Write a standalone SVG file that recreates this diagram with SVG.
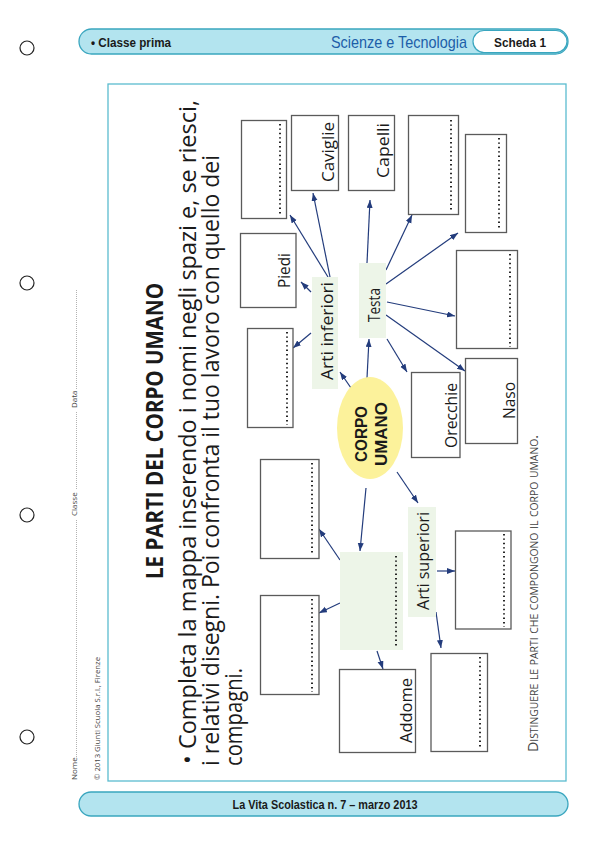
<svg xmlns="http://www.w3.org/2000/svg" width="595" height="842" viewBox="0 0 595 842">
<defs>
<style>
.hole{fill:#fff;stroke:#222;stroke-width:1.2}
.bar{fill:#b3e4ef;stroke:#3aa6bf;stroke-width:1.3}
.box{fill:#fff;stroke:#5a5a5a;stroke-width:1.3}
.lbl{fill:#edf5e8}
.dots{stroke:#111;stroke-width:1.8;stroke-dasharray:1.4 3;fill:none}
.lead{stroke:#777;stroke-width:0.7;stroke-dasharray:0.8 1.2;fill:none}
.t{font-family:"Open Sans","Liberation Sans",sans-serif;fill:#1a1a1a}
.hd{font-family:"Liberation Sans","Open Sans",sans-serif;font-weight:bold;fill:#1a1a1a}
.node{font-family:"Open Sans","Liberation Sans",sans-serif;font-size:16px;fill:#1a1a1a}
.small{font-family:"Open Sans","Liberation Sans",sans-serif;font-size:8px;fill:#444}
.arr{stroke:#233c7c;stroke-width:1.2;fill:none;marker-end:url(#ah)}
</style>
<marker id="ah" markerUnits="userSpaceOnUse" markerWidth="9" markerHeight="7" refX="8" refY="3" orient="auto">
<path d="M0,0 L8,3 L0,6 Z" fill="#233c7c"/>
</marker>
</defs>
<rect width="595" height="842" fill="#fff"/>

<g id="holes">
<circle class="hole" cx="27" cy="48" r="7"/>
<circle class="hole" cx="27" cy="283" r="7"/>
<circle class="hole" cx="27" cy="515" r="7"/>
<circle class="hole" cx="27" cy="737" r="7"/>
</g>

<g id="header">
<rect class="bar" x="79" y="29" width="489" height="25" rx="12.5"/>
<rect x="473" y="30.5" width="94" height="22" rx="11" fill="#fff" stroke="#3aa6bf" stroke-width="1.2"/>
<text class="hd" x="91" y="47" font-size="12.5" textLength="80" lengthAdjust="spacingAndGlyphs">• Classe prima</text>
<text x="331" y="48" font-family="Liberation Sans, Open Sans, sans-serif" font-size="17" fill="#1c5ea9" textLength="136" lengthAdjust="spacingAndGlyphs">Scienze e Tecnologia</text>
<text class="hd" x="520" y="47" font-size="12.5" text-anchor="middle" textLength="52" lengthAdjust="spacingAndGlyphs">Scheda 1</text>
</g>

<g id="frame">
<rect x="108" y="84" width="458" height="697" fill="none" stroke="#5bbccf" stroke-width="1.3"/>
</g>

<g id="footer">
<rect class="bar" x="79" y="792" width="489" height="24" rx="12"/>
<text class="hd" x="325" y="809" font-size="13" text-anchor="middle" textLength="185" lengthAdjust="spacingAndGlyphs">La Vita Scolastica n. 7 – marzo 2013</text>
</g>

<g id="margin">
<text class="small" transform="translate(77,780) rotate(-90)">Nome</text>
<line class="lead" x1="76.5" y1="757" x2="76.5" y2="519"/>
<text class="small" transform="translate(77,516) rotate(-90)">Classe</text>
<line class="lead" x1="76.5" y1="489" x2="76.5" y2="411"/>
<text class="small" transform="translate(77,408) rotate(-90)">Data</text>
<line class="lead" x1="76.5" y1="389" x2="76.5" y2="290"/>
<text class="small" transform="translate(100,780) rotate(-90)" textLength="123" lengthAdjust="spacingAndGlyphs">© 2013 Giunti Scuola S.r.l., Firenze</text>
</g>

<g id="title">
<text class="t" transform="translate(163,579) rotate(-90)" font-size="24" font-weight="bold" textLength="296" lengthAdjust="spacingAndGlyphs">LE PARTI DEL CORPO UMANO</text>
</g>

<g id="instructions">
<text class="t" transform="translate(196,764) rotate(-90)" font-size="24" textLength="664" lengthAdjust="spacingAndGlyphs">• Completa la mappa inserendo i nomi negli spazi e, se riesci,</text>
<text class="t" transform="translate(219,766) rotate(-90)" font-size="24" textLength="611" lengthAdjust="spacingAndGlyphs">i relativi disegni. Poi confronta il tuo lavoro con quello dei</text>
<text class="t" transform="translate(242,766) rotate(-90)" font-size="24" textLength="98" lengthAdjust="spacingAndGlyphs">compagni.</text>
</g>

<g id="connectors">
<line class="arr" x1="328" y1="277" x2="290" y2="215"/>
<line class="arr" x1="330" y1="277" x2="313" y2="193"/>
<line class="arr" x1="311" y1="292" x2="301" y2="282"/>
<line class="arr" x1="311" y1="333" x2="293" y2="348"/>
<line class="arr" x1="367" y1="263" x2="370" y2="200"/>
<line class="arr" x1="386" y1="270" x2="412" y2="215"/>
<line class="arr" x1="386" y1="284" x2="458" y2="233"/>
<line class="arr" x1="387" y1="302" x2="455" y2="316"/>
<line class="arr" x1="386" y1="315" x2="465" y2="371"/>
<line class="arr" x1="387" y1="339" x2="407" y2="372"/>
<line class="arr" x1="351" y1="388" x2="340" y2="372"/>
<line class="arr" x1="367" y1="378" x2="369" y2="339"/>
<line class="arr" x1="397" y1="472" x2="418" y2="503"/>
<line class="arr" x1="366" y1="488" x2="360" y2="551"/>
<line class="arr" x1="340" y1="560" x2="319" y2="529"/>
<line class="arr" x1="340" y1="603" x2="319" y2="613"/>
<line class="arr" x1="377" y1="651" x2="383" y2="669"/>
<line class="arr" x1="437" y1="571" x2="455" y2="571"/>
<line class="arr" x1="436" y1="612" x2="441" y2="648"/>
</g>

<g id="node-corpo">
<ellipse cx="370" cy="428" rx="33" ry="51" fill="#fcf29b"/>
<text class="hd" transform="translate(367,434) rotate(-90)" font-size="17" text-anchor="middle" textLength="56" lengthAdjust="spacingAndGlyphs">CORPO</text>
<text class="hd" transform="translate(387,434) rotate(-90)" font-size="17" text-anchor="middle" textLength="64" lengthAdjust="spacingAndGlyphs">UMANO</text>
</g>

<g id="node-arti-inferiori">
<rect class="lbl" x="312" y="277" width="26" height="112"/>
<text class="node" transform="translate(333,380) rotate(-90)" textLength="98" lengthAdjust="spacingAndGlyphs">Arti inferiori</text>
</g>
<g id="node-testa">
<rect class="lbl" x="359" y="263" width="27" height="75"/>
<text class="node" transform="translate(380,322) rotate(-90)" textLength="34" lengthAdjust="spacingAndGlyphs">Testa</text>
</g>
<g id="node-arti-superiori">
<rect class="lbl" x="408" y="507" width="28" height="110"/>
<text class="node" transform="translate(429,610) rotate(-90)" textLength="98" lengthAdjust="spacingAndGlyphs">Arti superiori</text>
</g>
<g id="node-tronco">
<rect class="lbl" x="340" y="552" width="63" height="98"/>
<line class="dots" x1="396" y1="556" x2="396" y2="647"/>
</g>

<g id="node-box-a">
<rect class="box" x="241.5" y="120.5" width="45" height="98"/>
<line class="dots" x1="280" y1="124" x2="280" y2="215"/>
</g>
<g id="node-caviglie">
<rect class="box" x="291.5" y="115.5" width="47" height="75"/>
<text class="node" transform="translate(334,182) rotate(-90)" textLength="60" lengthAdjust="spacingAndGlyphs">Caviglie</text>
</g>
<g id="node-capelli">
<rect class="box" x="348.5" y="115.5" width="46" height="75"/>
<text class="node" transform="translate(389,178) rotate(-90)" textLength="55" lengthAdjust="spacingAndGlyphs">Capelli</text>
</g>
<g id="node-box-4">
<rect class="box" x="408.5" y="115.5" width="50" height="99"/>
<line class="dots" x1="451" y1="120" x2="451" y2="212"/>
</g>
<g id="node-box-5">
<rect class="box" x="465.5" y="134.5" width="41" height="98"/>
<line class="dots" x1="499" y1="138" x2="499" y2="230"/>
</g>
<g id="node-box-6">
<rect class="box" x="456.5" y="250.5" width="61" height="98"/>
<line class="dots" x1="510" y1="254" x2="510" y2="347"/>
</g>
<g id="node-naso">
<rect class="box" x="465.5" y="358.5" width="52" height="85"/>
<text class="node" transform="translate(515,419) rotate(-90)" textLength="37" lengthAdjust="spacingAndGlyphs">Naso</text>
</g>
<g id="node-orecchie">
<rect class="box" x="411.5" y="372.5" width="48.5" height="85"/>
<text class="node" transform="translate(457,448) rotate(-90)" textLength="65" lengthAdjust="spacingAndGlyphs">Orecchie</text>
</g>
<g id="node-piedi">
<rect class="box" x="240.5" y="233.5" width="55.5" height="74"/>
<text class="node" transform="translate(290,288) rotate(-90)" textLength="35" lengthAdjust="spacingAndGlyphs">Piedi</text>
</g>
<g id="node-box-10">
<rect class="box" x="247.5" y="328.5" width="45.5" height="99"/>
<line class="dots" x1="287" y1="332" x2="287" y2="425"/>
</g>
<g id="node-box-11">
<rect class="box" x="260.5" y="459.5" width="58.5" height="99"/>
<line class="dots" x1="312" y1="463" x2="312" y2="555"/>
</g>
<g id="node-box-12">
<rect class="box" x="260.5" y="595.5" width="58.5" height="99"/>
<line class="dots" x1="312" y1="599" x2="312" y2="692"/>
</g>
<g id="node-addome">
<rect class="box" x="339.5" y="669.5" width="76" height="83"/>
<text class="node" transform="translate(412,743) rotate(-90)" textLength="65" lengthAdjust="spacingAndGlyphs">Addome</text>
</g>
<g id="node-box-14">
<rect class="box" x="431" y="653.5" width="56.5" height="98"/>
<line class="dots" x1="480" y1="657" x2="480" y2="748"/>
</g>
<g id="node-box-15">
<rect class="box" x="455.5" y="531" width="55.5" height="98"/>
<line class="dots" x1="504" y1="534" x2="504" y2="627"/>
</g>

<g id="caption">
<text transform="translate(538,752) rotate(-90)" font-family="Open Sans, Liberation Sans, sans-serif" font-size="15" font-variant="small-caps" fill="#444" textLength="317" lengthAdjust="spacingAndGlyphs">Distinguere le parti che compongono il corpo umano.</text>
</g>
</svg>
